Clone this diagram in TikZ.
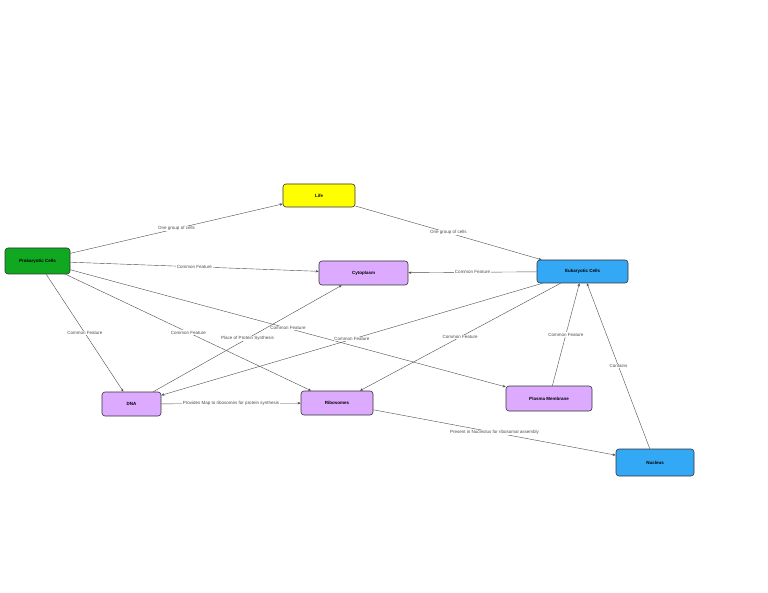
\documentclass[tikz,border=0pt]{standalone}
\usepackage{fontspec}
\setmainfont{Liberation Sans}
\usetikzlibrary{arrows.meta}
\definecolor{cgreen}{HTML}{10A820}
\definecolor{cyellow}{HTML}{FFFF00}
\definecolor{cpurple}{HTML}{DCAAFF}
\definecolor{cblue}{HTML}{33A8F5}
\tikzset{
 box/.style={draw=black!80,rounded corners=3pt,font=\fontsize{4.5}{5}\selectfont\bfseries,inner sep=0pt,line width=0.6pt},
 conn/.style={draw=black!70,line width=0.4pt,-{Stealth[length=3pt,width=2.5pt]}},
 lbl/.style={fill=white,font=\fontsize{4.5}{5}\selectfont,text=black!70,inner sep=0.5pt,pos=0.5}
}
\begin{document}
\begin{tikzpicture}[x=1pt,y=-1pt]
\useasboundingbox (0,0) rectangle (768,593);
\node[box,fill=cyellow,minimum width=72pt,minimum height=23pt] (life) at (319,195.5) {Life};
\node[box,fill=cgreen,minimum width=65pt,minimum height=26pt] (pro) at (37.5,261) {Prokaryotic Cells};
\node[box,fill=cpurple,minimum width=89pt,minimum height=24pt] (cyto) at (363.5,273) {Cytoplasm};
\node[box,fill=cblue,minimum width=91pt,minimum height=23pt] (euk) at (582.5,271.5) {Eukaryotic Cells};
\node[box,fill=cpurple,minimum width=59pt,minimum height=24pt] (dna) at (131.5,404) {DNA};
\node[box,fill=cpurple,minimum width=72pt,minimum height=24pt] (ribo) at (337,403) {Ribosomes};
\node[box,fill=cpurple,minimum width=86pt,minimum height=25pt] (pm) at (549,398.5) {Plasma Membrane};
\node[box,fill=cblue,minimum width=78pt,minimum height=27pt] (nuc) at (655,462.5) {Nucleus};

\draw[conn] (pro) -- node[lbl]{One group of cells} (life);
\draw[conn] (life) -- node[lbl]{One group of cells} (euk);
\draw[conn] (pro) -- node[lbl]{Common Feature} (cyto);
\draw[conn] (euk) -- node[lbl]{Common Feature} (cyto);
\draw[conn] (pro) -- node[lbl]{Common Feature} (dna);
\draw[conn] (pro) -- node[lbl]{Common Feature} (ribo);
\draw[conn] (pro) -- node[lbl]{Common Feature} (pm);
\draw[conn] (euk) -- node[lbl]{Common Feature} (dna);
\draw[conn] (euk) -- node[lbl]{Common Feature} (ribo);
\draw[conn] (pm) -- node[lbl]{Common Feature} (euk);
\draw[conn] (nuc) -- node[lbl]{Contains} (euk);
\draw[conn] (dna) -- node[lbl]{Place of Protein Synthesis} (cyto);
\draw[conn] (dna) -- node[lbl]{Provides Map to ribosomes for protein synthesis} (ribo);
\draw[conn] (ribo) -- node[lbl]{Present in Nucleolus for ribosomal assembly} (nuc);
\end{tikzpicture}
\end{document}
